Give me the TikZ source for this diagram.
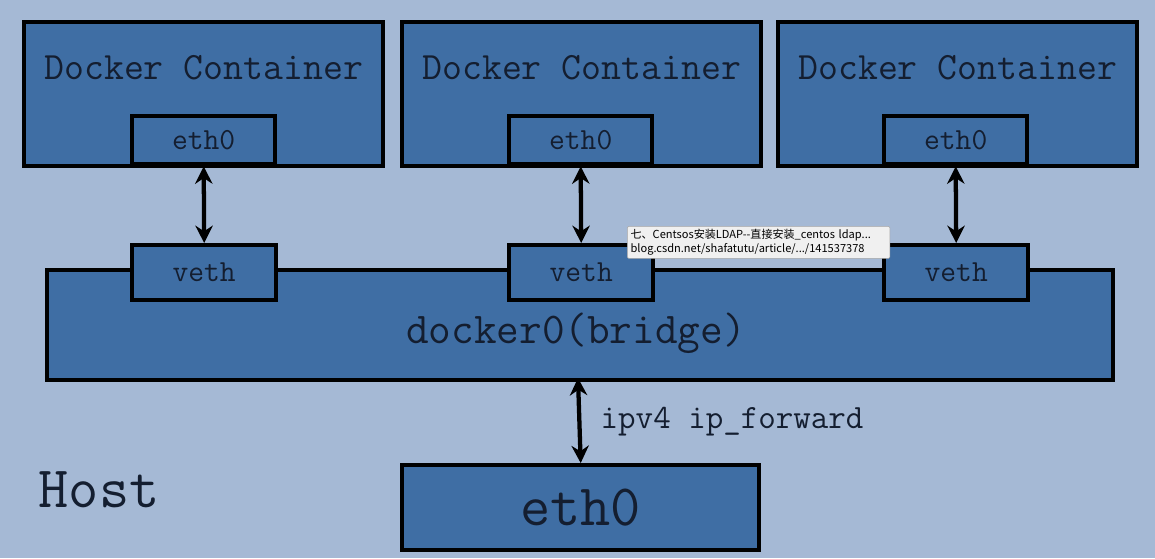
\documentclass[tikz,border=0pt]{standalone}
\usepackage{fontspec}
\setmainfont{Latin Modern Mono}
\newfontfamily\cjk{Noto Sans CJK SC}
\usetikzlibrary{arrows.meta}
\definecolor{bg}{HTML}{A5B9D5}
\definecolor{boxc}{HTML}{3F6EA4}
\definecolor{txt}{HTML}{141E30}
\begin{document}
\begin{tikzpicture}[x=0.75pt,y=-0.75pt,
  box/.style={draw=black,line width=3.3pt,fill=boxc,text=txt},
  arr/.style={line width=3.2pt,{Stealth[length=13pt,width=13pt]}-{Stealth[length=13pt,width=13pt]}},
  fs/.style={font=\fontsize{#1}{#1}\selectfont,text=txt}]
\fill[bg] (0,0) rectangle (1155,558);
\useasboundingbox (0,0) rectangle (1155,558);
\foreach \i/\x in {1/22,2/400,3/776}{
  \node[box,minimum width=269.25pt,minimum height=108pt,anchor=north west,inner sep=0pt] (c\i) at (\x,20) {};
  \node[fs=29pt,anchor=north] at ([yshift=-23pt]c\i.north) {Docker Container};
}
\foreach \i/\x in {1/130,2/507,3/882}{
  \node[box,fs=23pt,minimum width=107.25pt,minimum height=36pt,anchor=north west,inner sep=0pt] (e\i) at (\x,114) {eth0};
}
\node[box,minimum width=799.5pt,minimum height=82.5pt,anchor=north west,inner sep=0pt] (br) at (45,268) {};
\node[fs=33pt] (brl) at (576,333) {docker0(bridge)};
\foreach \i/\x in {1/130,2/507,3/882}{
  \node[box,fs=23pt,minimum width=108pt,minimum height=41pt,anchor=north west,inner sep=0pt] (v\i) at (\x,243) {veth};
  \draw[arr] (e\i.south) -- (v\i.north);
}
\node[box,fs=44pt,minimum width=267.75pt,minimum height=63.75pt,anchor=north west,inner sep=0pt] (he) at (400,463) {eth0};
\coordinate (bt) at (578,378);
\draw[arr] (bt) -- (he.north);
\node[fs=44pt,anchor=west] (host) at (34,490) {Host};
\node[fs=25.5pt,anchor=west] (ipf) at (596,422) {ipv4 ip\_forward};
\node[draw=gray!70,fill=gray!12,rounded corners=1pt,anchor=north west,minimum width=197pt,minimum height=24pt,inner sep=2pt,align=left,font=\cjk\fontsize{8.3pt}{10pt}\selectfont,text width=192pt] (tip) at (627,226)
{七、Centsos安装LDAP--直接安装\_centos ldap...\\blog.csdn.net/shafatutu/article/.../141537378};
\end{tikzpicture}
\end{document}
